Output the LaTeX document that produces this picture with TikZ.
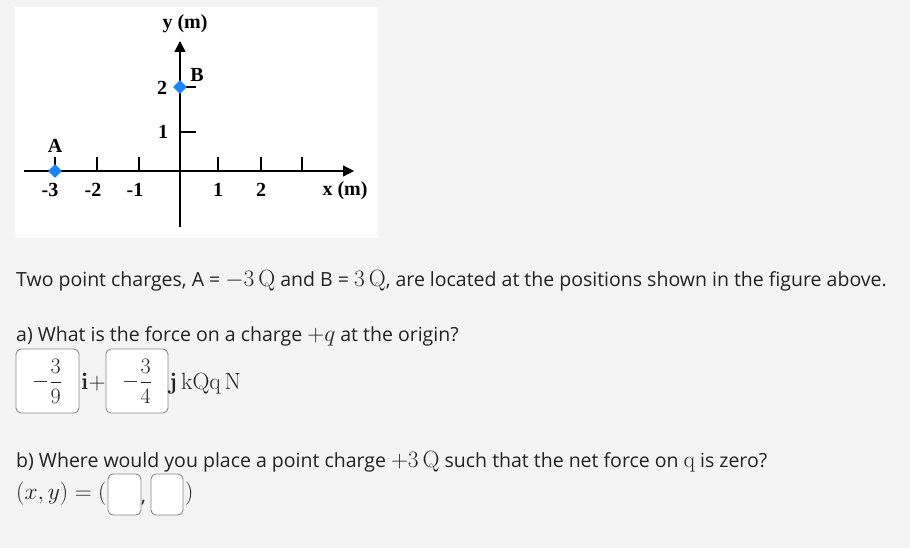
\RequirePackage{fix-cm}
\documentclass[tikz,border=0pt]{standalone}
\usepackage[no-math]{fontspec}
\setmainfont{Open Sans}
\newfontfamily\figfont{Liberation Serif}
\usetikzlibrary{shapes.geometric,arrows.meta}
\definecolor{bg}{HTML}{F4F4F4}
\definecolor{txt}{HTML}{222222}
\definecolor{dotblue}{HTML}{1A85FF}
\definecolor{boxgray}{HTML}{8A8A8A}
\newcommand\km[1]{{\fontsize{23.5}{26}\selectfont$#1$}}
\tikzset{
  axis/.style={line width=1.3pt,black},
  tickline/.style={line width=1.1pt,black},
  charge/.style={diamond,fill=dotblue,inner sep=0pt,minimum size=14pt},
  flab/.style={font=\figfont\bfseries\fontsize{20}{22}\selectfont,inner sep=0pt},
  qtext/.style={font=\fontsize{19.5}{23}\selectfont,text=txt,anchor=base west,inner sep=0pt},
  ansbox/.style={draw=boxgray,fill=white,rounded corners=5pt,line width=0.9pt},
  frac/.style={inner sep=0pt,text=txt,font=\fontsize{22}{26}\selectfont},
}
\begin{document}
\begin{tikzpicture}[x=1pt,y=-1pt]
\useasboundingbox (0,0) rectangle (910,548);
\fill[bg] (0,0) rectangle (910,548);
\fill[white] (15,7) rectangle (378,238);
% axes
\coordinate (xs) at (24,171);
\coordinate (xe) at (354,171);
\coordinate (ys) at (180,227);
\coordinate (ye) at (180,41);
\draw[axis,-{Triangle[length=11pt,width=11pt]}] (xs) -- (xe);
\draw[axis,-{Triangle[length=11pt,width=11pt]}] (ys) -- (ye);
% x ticks
\foreach \x in {55,97,139,218,261,302}{\draw[tickline] (\x,171) -- (\x,157);}
% y ticks
\foreach \y in {87,132}{\draw[tickline] (180,\y) -- (196,\y);}
% charges
\node[charge] (A) at (55,171) {};
\node[charge] (B) at (180,87) {};
% labels
\node[flab] (ylab) at (185,24) {y (m)};
\node[flab] (Blab) at (197,75) {B};
\node[flab] (y2) at (162,88) {2};
\node[flab] (y1) at (163,132) {1};
\node[flab] (Alab) at (55,146) {A};
\node[flab] (xm3) at (50,190) {-3};
\node[flab] (xm2) at (93,190) {-2};
\node[flab] (xm1) at (135,190) {-1};
\node[flab] (x1) at (218,190) {1};
\node[flab] (x2) at (261,190) {2};
\node[flab] (xlab) at (345,191) {x (m)};
% text
\node[qtext] (l1) at (16,286) {Two point charges, A = \km{-3\,\mathrm{Q}} and B = \km{3\,\mathrm{Q}}, are located at the positions shown in the figure above.};
\node[qtext] (l2) at (16,341) {a) What is the force on a charge \km{+q} at the origin?};
\draw[ansbox] (16,349) rectangle (79,413);
\node[frac] (f1) at (47,381) {$\displaystyle-\frac{3}{9}$};
\node[qtext] (ip) at (81,389) {\km{\mathbf{i}{+}}};
\draw[ansbox] (106,349) rectangle (168,413);
\node[frac] (f2) at (137,381) {$\displaystyle-\frac{3}{4}$};
\node[qtext] (jk) at (169,389) {\km{\mathbf{j}\,\mathrm{kQq}\,\mathrm{N}}};
\node[qtext] (l3) at (16,467) {b) Where would you place a point charge \km{+3\,\mathrm{Q}} such that the net force on \km{\mathrm{q}} is zero?};
\node[qtext] (l4) at (16,499) {\km{(x,y)=(}};
\draw[ansbox] (108,474) rectangle (141,515);
\node[qtext] (cm) at (141,502) {,};
\draw[ansbox] (151,474) rectangle (183,515);
\node[qtext] (rp) at (185,499) {\km{)}};
\end{tikzpicture}
\end{document}
